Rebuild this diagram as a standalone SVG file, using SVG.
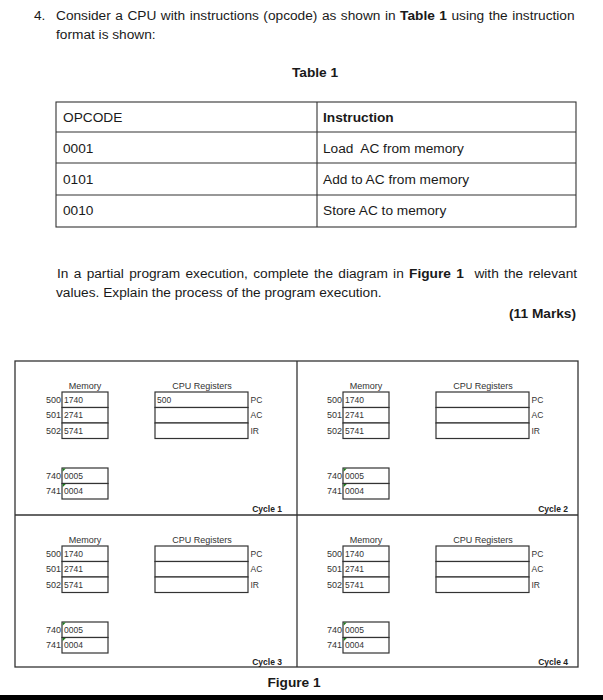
<svg xmlns="http://www.w3.org/2000/svg" width="603" height="700" viewBox="0 0 603 700">
<style>
.t{font-family:"Liberation Sans",Arial,sans-serif;font-size:13.7px;fill:#1a1a1a}
.b{font-weight:bold}
.s{font-family:"Liberation Sans",Arial,sans-serif;font-size:9px;fill:#333}
.v{font-family:"Liberation Sans",Arial,sans-serif;font-size:8.5px;fill:#333}
.cb{font-family:"Liberation Sans",Arial,sans-serif;font-size:8.5px;font-weight:bold;fill:#222}
.cell{fill:#fff;stroke:#333;stroke-width:1.2}
.frame{fill:none;stroke:#333;stroke-width:1.3}
.grid{fill:none;stroke:#333;stroke-width:1.1}
.mk{fill:#1e7a1e}
</style>
<defs>
<g id="panel">
<text class="s" x="85" y="389" text-anchor="middle">Memory</text>
<rect class="cell" x="62" y="392" width="46" height="15.5"/>
<rect class="cell" x="62" y="407.5" width="46" height="15.5"/>
<rect class="cell" x="62" y="423" width="46" height="15.5"/>
<text class="s" x="61" y="402.8" text-anchor="end">500</text>
<text class="s" x="61" y="418.3" text-anchor="end">501</text>
<text class="s" x="61" y="433.8" text-anchor="end">502</text>
<text class="v" x="64" y="402.8">1740</text>
<text class="v" x="64" y="418.3">2741</text>
<text class="v" x="64" y="433.8">5741</text>
<text class="s" x="202" y="389" text-anchor="middle">CPU Registers</text>
<rect class="cell" x="155" y="392" width="93" height="15.5"/>
<rect class="cell" x="155" y="407.5" width="93" height="15.5"/>
<rect class="cell" x="155" y="423" width="93" height="15.5"/>
<text class="v" x="250.5" y="402.8">PC</text>
<text class="v" x="250.5" y="418.3">AC</text>
<text class="v" x="250.5" y="433.8">IR</text>
<rect class="cell" x="62" y="468" width="46" height="15.5"/>
<rect class="cell" x="62" y="483.5" width="46" height="15.5"/>
<path class="mk" d="M62.6,468.6 h3.2 L62.6,471.8 Z"/>
<path class="mk" d="M62.6,484.1 h3.2 L62.6,487.3 Z"/>
<text class="s" x="61" y="478.8" text-anchor="end">740</text>
<text class="s" x="61" y="494.3" text-anchor="end">741</text>
<text class="v" x="64" y="478.8">0005</text>
<text class="v" x="64" y="494.3">0004</text>
</g>
</defs>

<g id="question">
<text class="t" x="34" y="20">4.</text>
<text class="t" x="56" y="20" style="word-spacing:0.7px">Consider a CPU with instructions (opcode) as shown in <tspan class="b">Table 1</tspan> using the instruction</text>
<text class="t" x="56" y="39">format is shown:</text>
<text class="t b" x="315" y="77" text-anchor="middle">Table 1</text>
</g>

<g id="table1">
<rect class="grid" x="56" y="102" width="520" height="125"/>
<line class="grid" x1="317" y1="102" x2="317" y2="227"/>
<line class="grid" x1="56" y1="132" x2="576" y2="132"/>
<line class="grid" x1="56" y1="163" x2="576" y2="163"/>
<line class="grid" x1="56" y1="195" x2="576" y2="195"/>
<text class="t" x="63" y="122">OPCODE</text>
<text class="t b" x="323" y="122">Instruction</text>
<text class="t" x="63" y="153">0001</text>
<text class="t" x="323" y="153" style="white-space:pre">Load  AC from memory</text>
<text class="t" x="63" y="184">0101</text>
<text class="t" x="323" y="184">Add to AC from memory</text>
<text class="t" x="63" y="215">0010</text>
<text class="t" x="323" y="215">Store AC to memory</text>
</g>

<g id="task">
<text class="t" x="57" y="278" style="white-space:pre;word-spacing:1.5px">In a partial program execution, complete the diagram in <tspan class="b">Figure 1</tspan>  with the relevant</text>
<text class="t" x="56" y="297">values. Explain the process of the program execution.</text>
<text class="t b" x="576" y="318" text-anchor="end">(11 Marks)</text>
</g>

<g id="figure1-frame">
<rect class="frame" x="15" y="361" width="563" height="306"/>
<line class="frame" x1="297" y1="361" x2="297" y2="667"/>
<line class="frame" x1="15" y1="515" x2="578" y2="515"/>
</g>

<g id="cycle1">
<use href="#panel"/>
<text class="v" x="157" y="402.8">500</text>
<text class="cb" x="282" y="512" text-anchor="end">Cycle 1</text>
</g>
<g id="cycle2">
<use href="#panel" transform="translate(281,0)"/>
<text class="cb" x="568" y="512" text-anchor="end">Cycle 2</text>
</g>
<g id="cycle3">
<use href="#panel" transform="translate(0,154)"/>
<text class="cb" x="282" y="665" text-anchor="end">Cycle 3</text>
</g>
<g id="cycle4">
<use href="#panel" transform="translate(281,154)"/>
<text class="cb" x="568" y="665" text-anchor="end">Cycle 4</text>
</g>

<text class="t b" x="294" y="687" text-anchor="middle">Figure 1</text>
<rect x="0" y="695" width="603" height="5" fill="#000"/>
</svg>
